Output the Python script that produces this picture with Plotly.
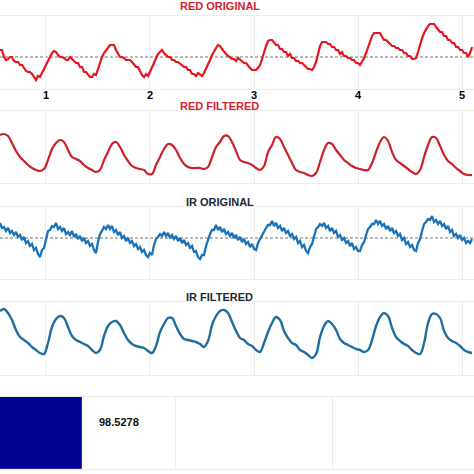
import numpy as np
import plotly.graph_objects as go

# ---------------- data ----------------
FS_RAW = 52.0      # samples per second (original signals)
FS_FILT = 26.0     # samples per second (filtered signals)
T0 = 0.558         # time of first sample (s)

RED_ORIGINAL = [7, 7, 0, -3, -2, 0, 0, -4, -5, -5, -8, -8, -11, -14, -15, -15, -17, -20, -23, -19,
                -20, -16, -12, -9, -5, -1, 4, 6, 5, 2, 0, 0, -1, -3, -3, 0, -2, -5, -6, -6,
                -10, -10, -15, -15, -17, -20, -20, -17, -18, -12, -5, 0, 4, 7, 9, 12, 12, 12, 7, 3,
                0, 0, -1, -3, -3, -3, -5, -8, -10, -10, -15, -18, -20, -17, -19, -15, -10, -6, -1, 3,
                5, 7, 4, 2, 0, 0, -3, -3, -5, -5, -7, -9, -10, -10, -13, -13, -17, -17, -19, -16,
                -18, -19, -16, -12, -8, -3, 2, 6, 9, 12, 11, 8, 5, 3, 1, -1, -2, -2, -4, -1,
                -3, -5, -6, -6, -9, -11, -13, -13, -13, -11, -8, -2, 5, 11, 16, 17, 17, 14, 12, 12,
                8, 8, 5, 5, 1, 3, -1, -1, -4, -4, -6, -6, -8, -11, -12, -12, -13, -10, -5, 3,
                11, 15, 15, 15, 13, 13, 10, 10, 7, 7, 3, 5, 1, 1, -1, -1, -3, -3, -6, -6,
                -8, -5, -1, 4, 10, 16, 21, 24, 24, 24, 24, 20, 17, 17, 15, 13, 11, 11, 9, 9,
                7, 7, 4, 4, 1, 1, -2, -2, -1, 5, 13, 19, 24, 28, 31, 33, 33, 33, 30, 27,
                25, 25, 21, 21, 17, 17, 14, 14, 10, 10, 7, 7, 4, 4, 0, 4, 10]

RED_FILTERED = [25, 26, 24, 17, 9, 3, -1, -5, -8, -10,
                -11, -9, 0, 11, 17, 20, 18, 10, 3, 1,
                -1, -5, -8, -10, -12, -10, 0, 8, 16, 18,
                13, 5, -1, -6, -8, -9, -10, -14, -14, -5,
                3, 11, 16, 15, 10, 2, -4, -7, -8, -8,
                -8, -9, -7, 3, 13, 18, 24, 24, 18, 9,
                0, -2, -3, -5, -8, -10, -6, 8, 15, 23,
                21, 13, 5, -3, -10, -12, -13, -15, -16, -13,
                -2, 10, 17, 16, 10, 5, 0, -3, -6, -8,
                -9, -10, -10, -3, 8, 18, 23, 19, 8, 0,
                -3, -6, -9, -12, -14, -10, 3, 15, 23, 22,
                14, 5, -1, -4, -8, -11, -14, -15, -15]

IR_ORIGINAL = [15, 10, 11, 7, 10, 5, 7, 3, 6, 1, 3, -2, 1, -5, -3, -8, -6, -12, -10, -16,
               -19, -12, -10, 0, 7, 8, 12, 11, 15, 9, 11, 7, 10, 4, 6, 3, 7, 1, 4, -1,
               2, -3, 0, -5, -3, -8, -6, -12, -15, -4, 4, 7, 11, 9, 13, 9, 12, 6, 8, 3,
               6, 0, 2, -3, 0, -5, -3, -8, -6, -11, -9, -14, -12, -17, -19, -15, -17, -7, -1, 1,
               4, 2, 6, 2, 5, 0, 3, -1, 2, -3, 0, -5, -2, -7, -5, -10, -8, -14, -13, -19,
               -21, -17, -17, -8, -1, 4, 8, 8, 13, 8, 11, 6, 9, 4, 6, 2, 5, 0, 3, -2,
               1, -4, -1, -6, -4, -9, -6, -11, -12, -5, -1, 3, 7, 10, 13, 13, 17, 12, 15, 10,
               12, 7, 10, 5, 7, 2, 4, -1, 1, -5, -3, -9, -7, -13, -15, -9, -6, 2, 9, 11,
               14, 12, 15, 10, 12, 7, 10, 5, 7, 1, 3, -2, 0, -5, -3, -8, -5, -11, -9, -13,
               -13, -7, -4, 3, 9, 11, 14, 14, 18, 14, 17, 12, 14, 9, 12, 7, 10, 5, 7, 2,
               4, -2, 0, -6, -4, -9, -7, -12, -13, -5, -1, 7, 14, 16, 19, 18, 22, 16, 18, 14,
               17, 12, 14, 9, 12, 6, 8, 2, 4, 0, 3, -2, 0, -5, -3, -5, -1]

IR_FILTERED = [29, 31, 27, 20, 10, 3, 0, -3, -7, -10,
               -13, -14, -3, 13, 21, 24, 22, 13, 4, 0,
               -2, -4, -6, -10, -13, -10, 4, 14, 18, 19,
               15, 7, 0, -4, -6, -7, -8, -11, -13, -6,
               8, 16, 22, 22, 14, 6, 1, 0, -1, -2,
               -4, -7, -1, 15, 24, 29, 30, 27, 18, 9,
               2, 0, -4, -6, -10, -12, -3, 8, 17, 23,
               20, 9, 2, -3, -5, -10, -12, -15, -18, -14,
               3, 14, 19, 16, 10, 1, -3, -5, -7, -9,
               -10, -12, -10, 0, 14, 23, 27, 24, 12, 3,
               -1, -4, -6, -10, -13, -14, -3, 17, 26, 26,
               22, 9, 2, -1, -3, -6, -10, -12, -13]

TICK_VALUES = [1, 2, 3, 4, 5]
TICK_LABELS = ["1", "2", "3", "4", "5"]
PANEL_TITLES = ["RED ORIGINAL", "RED FILTERED", "IR ORIGINAL", "IR FILTERED"]
SPO2_VALUE = "98.5278"
INDICATOR = [82]

# ---------------- layout helpers ----------------
H = 474.0
def py(p):
    return 1 - p / H

t_raw = T0 + np.arange(len(RED_ORIGINAL)) / FS_RAW
t_filt = T0 + np.arange(len(RED_FILTERED)) / FS_FILT
XR = [0.558, 5.115]
GRID = "#ececec"
FONT = "Liberation Sans, Arial, sans-serif"

fig = go.Figure()

series = [
    (t_raw, RED_ORIGINAL, "#e8141b", 2.2, "linear"),
    (t_filt, RED_FILTERED, "#cc1f2a", 2.2, "spline"),
    (t_raw, IR_ORIGINAL, "#1a72b8", 2.3, "linear"),
    (t_filt, IR_FILTERED, "#1f6e9e", 2.4, "spline"),
]
domains = [(16, 89), (111, 183), (207, 279), (302, 375)]
yranges = [[-32, 41], [-23, 49], [-41, 31], [-35, 38]]

for i, (tt, vals, col, w, shape) in enumerate(series):
    n = i + 1
    fig.add_trace(go.Scatter(x=tt, y=vals, mode="lines",
                             line=dict(color=col, width=w, shape=shape),
                             xaxis=f"x{n}", yaxis=f"y{n}", showlegend=False,
                             hoverinfo="skip"))

# panel 5 indicator bar
fig.add_trace(go.Bar(x=INDICATOR, y=[0], orientation="h", base=0, width=1,
                     marker=dict(color="#000091", line=dict(color="#2a2aa0", width=1)),
                     xaxis="x5", yaxis="y5", showlegend=False, hoverinfo="skip"))

lay = dict(width=474, height=474, margin=dict(l=0, r=0, t=0, b=0),
           paper_bgcolor="white", plot_bgcolor="white",
           font=dict(family=FONT, color="black"), bargap=0)

for i, (top, bot) in enumerate(domains):
    n = i + 1
    xa = dict(domain=[0, 1], range=XR, tickvals=TICK_VALUES,
              ticktext=[f"<b>{t}</b>" for t in TICK_LABELS],
              showgrid=True, gridcolor=GRID, gridwidth=1,
              showline=True, mirror=True, linecolor=GRID, linewidth=1,
              zeroline=False, ticks="", anchor=f"y{n}",
              showticklabels=(n == 1), ticklabelstandoff=-4,
              tickfont=dict(size=11, color="black", family=FONT))
    ya = dict(domain=[py(bot), py(top)], range=yranges[i], showgrid=False,
              zeroline=False, showticklabels=False, ticks="", anchor=f"x{n}")
    lay[f"xaxis{n}" if n > 1 else "xaxis"] = xa
    lay[f"yaxis{n}" if n > 1 else "yaxis"] = ya

lay["xaxis5"] = dict(domain=[0, 1], range=[0, 474], tickvals=[175, 332],
                     showgrid=True, gridcolor=GRID, showline=True, mirror=True,
                     linecolor=GRID, zeroline=False, showticklabels=False,
                     ticks="", anchor="y5")
lay["yaxis5"] = dict(domain=[py(469), py(397)], range=[-0.5, 0.5],
                     showgrid=False, zeroline=False, showticklabels=False,
                     ticks="", anchor="x5")

fig.update_layout(**lay)

# dashed baselines
for n in (1, 3):
    fig.add_shape(type="line", xref=f"x{n}", yref=f"y{n}", x0=XR[0], x1=XR[1],
                  y0=0, y1=0, line=dict(color="#707070", width=1, dash="3px,2px"),
                  layer="below")

title_y = [6, 105.5, 202, 297]
title_col = ["#d42330", "#d42330", "#1f2933", "#1f2933"]
for t, yy, c in zip(PANEL_TITLES, title_y, title_col):
    fig.add_annotation(text=f"<b>{t}</b>", xref="paper", yref="paper",
                       x=219.5 / H, y=py(yy), showarrow=False, borderpad=0,
                       xanchor="center", yanchor="middle",
                       font=dict(size=11, color=c, family=FONT))

fig.add_annotation(text=f"<b>{SPO2_VALUE}</b>", xref="x5", yref="y5",
                   x=97, y=0.153, showarrow=False, xanchor="left",
                   yanchor="middle", font=dict(size=11, color="#111", family=FONT))

fig.write_html("out.html", config={"displayModeBar": False},
               post_script="document.body.style.margin='0';document.body.style.overflow='hidden';")
